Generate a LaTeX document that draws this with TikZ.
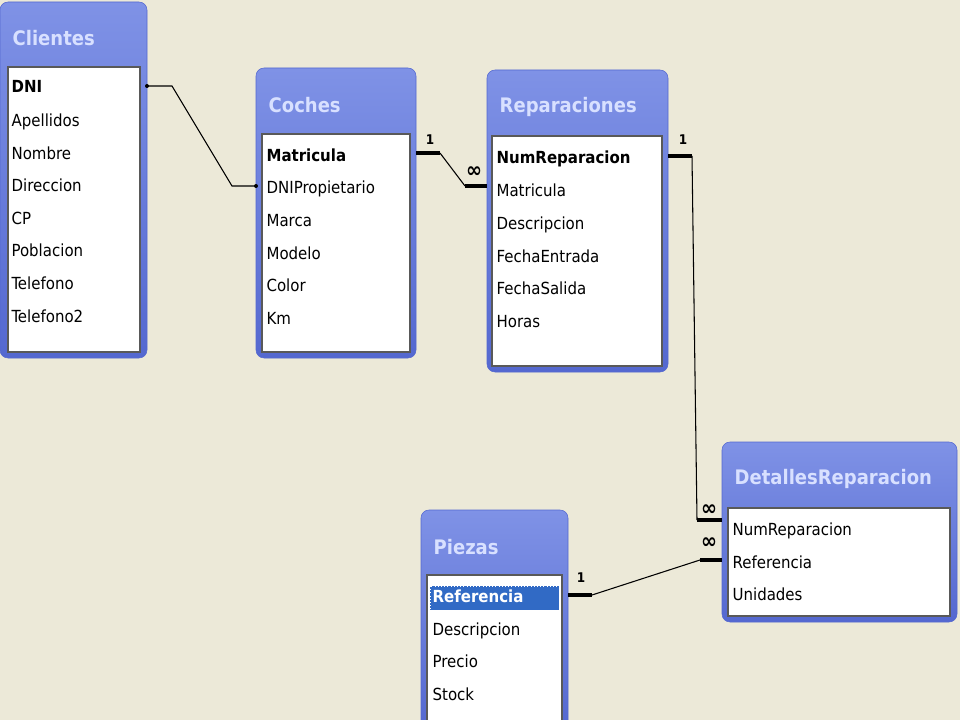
\documentclass[tikz,border=0pt]{standalone}
\usepackage{fontspec}
\setmainfont{DejaVu Sans Condensed}
\begin{document}
\begin{tikzpicture}[x=0.75pt,y=-0.75pt,
  inner/.style={fill=white,draw=gray!70!black,line width=1.2pt},
  ttl/.style={anchor=west,text=hdtxt,font=\bfseries\fontsize{15}{15}\selectfont},
  fld/.style={anchor=west,inner sep=1pt,text height=9.5pt,text depth=2.5pt,font=\fontsize{12.5}{13}\selectfont},
  rel/.style={line width=0.8pt},
  thk/.style={line width=3pt},
  card/.style={font=\bfseries\fontsize{10}{10}\selectfont,inner sep=0pt},
  inf/.style={font=\bfseries\fontsize{16}{16}\selectfont,inner sep=0pt}]
\definecolor{hdtop}{HTML}{7F92E6}\definecolor{hdbot}{HTML}{5468D0}
\definecolor{hdtxt}{HTML}{D8E0FF}\definecolor{bgc}{HTML}{ECE9D8}
\definecolor{selc}{HTML}{316AC5}
\tikzset{tbl/.style={rounded corners=6pt,top color=hdtop,bottom color=hdbot,draw=hdbot}}
\fill[bgc] (0,0) rectangle (960,720);
\useasboundingbox (0,0) rectangle (960,720);
% Clientes
\path[tbl] (0,2) rectangle (147,358);
\node[ttl] (tC) at (8,38) {Clientes};
\draw[inner] (8,67) rectangle (140,352);
\node[fld,font=\bfseries\fontsize{12.5}{13}\selectfont] (c1) at (10,88) {DNI};
\node[fld] (c2) at (10,122) {Apellidos};
\node[fld] (c3) at (10,155) {Nombre};
\node[fld] (c4) at (10,187) {Direccion};
\node[fld] (c5) at (10,220) {CP};
\node[fld] (c6) at (10,252) {Poblacion};
\node[fld] (c7) at (10,285) {Telefono};
\node[fld] (c8) at (10,318) {Telefono2};
% Coches
\path[tbl] (256,68) rectangle (416,358);
\node[ttl] (tCo) at (264,105) {Coches};
\draw[inner] (262,134) rectangle (410,352);
\node[fld,font=\bfseries\fontsize{12.5}{13}\selectfont] (k1) at (265,157) {Matricula};
\node[fld] (k2) at (265,189) {DNIPropietario};
\node[fld] (k3) at (265,222) {Marca};
\node[fld] (k4) at (265,255) {Modelo};
\node[fld] (k5) at (265,287) {Color};
\node[fld] (k6) at (265,320) {Km};
% Reparaciones
\path[tbl] (487,70) rectangle (668,372);
\node[ttl] (tR) at (495,107) {Reparaciones};
\draw[inner] (492,136) rectangle (662,366);
\node[fld,font=\bfseries\fontsize{12.5}{13}\selectfont] (r1) at (495,159) {NumReparacion};
\node[fld] (r2) at (495,192) {Matricula};
\node[fld] (r3) at (495,225) {Descripcion};
\node[fld] (r4) at (495,258) {FechaEntrada};
\node[fld] (r5) at (495,290) {FechaSalida};
\node[fld] (r6) at (495,323) {Horas};
% DetallesReparacion
\path[tbl] (722,442) rectangle (957,622);
\node[ttl] (tD) at (730,479) {DetallesReparacion};
\draw[inner] (728,508) rectangle (950,616);
\node[fld] (d1) at (731,531) {NumReparacion};
\node[fld] (d2) at (731,564) {Referencia};
\node[fld] (d3) at (731,596) {Unidades};
% Piezas
\path[tbl] (421,510) rectangle (568,730);
\node[ttl] (tP) at (429,547) {Piezas};
\draw[inner] (427,575) rectangle (562,730);
\fill[selc] (430,586) rectangle (559,610);
\draw[dotted,white] (430,586) rectangle (559,610);
\node[fld,text=white,font=\bfseries\fontsize{12.5}{13}\selectfont] (p1) at (431,598) {Referencia};
\node[fld] (p2) at (431,631) {Descripcion};
\node[fld] (p3) at (431,663) {Precio};
\node[fld] (p4) at (431,696) {Stock};
% connection points
\coordinate (a0) at (147,86); \coordinate (a1) at (172,86);
\coordinate (a2) at (232,186); \coordinate (a3) at (256,186);
\coordinate (b0) at (416,153); \coordinate (b1) at (440,153);
\coordinate (b2) at (465,186); \coordinate (b3) at (487,186);
\coordinate (e0) at (668,156); \coordinate (e1) at (692,156);
\coordinate (e2) at (697,520); \coordinate (e3) at (722,520);
\coordinate (f0) at (568,595); \coordinate (f1) at (592,595);
\coordinate (f2) at (700,560); \coordinate (f3) at (722,560);
\draw[rel] (a0) -- (a1) -- (a2) -- (a3);
\fill (a0) circle (2); \fill (a3) circle (2);
\draw[thk] (b0) -- (b1); \draw[rel] (b1) -- (b2); \draw[thk] (b2) -- (b3);
\draw[thk] (e0) -- (e1); \draw[rel] (e1) -- (e2); \draw[thk] (e2) -- (e3);
\draw[thk] (f0) -- (f1); \draw[rel] (f1) -- (f2); \draw[thk] (f2) -- (f3);
\node[card] (n1) at (430,140) {1};
\node[inf] (n2) at (474,172) {∞};
\node[card] (n3) at (683,140) {1};
\node[inf] (n4) at (709,510) {∞};
\node[card] (n5) at (581,578) {1};
\node[inf] (n6) at (709,543) {∞};
\end{tikzpicture}
\end{document}
